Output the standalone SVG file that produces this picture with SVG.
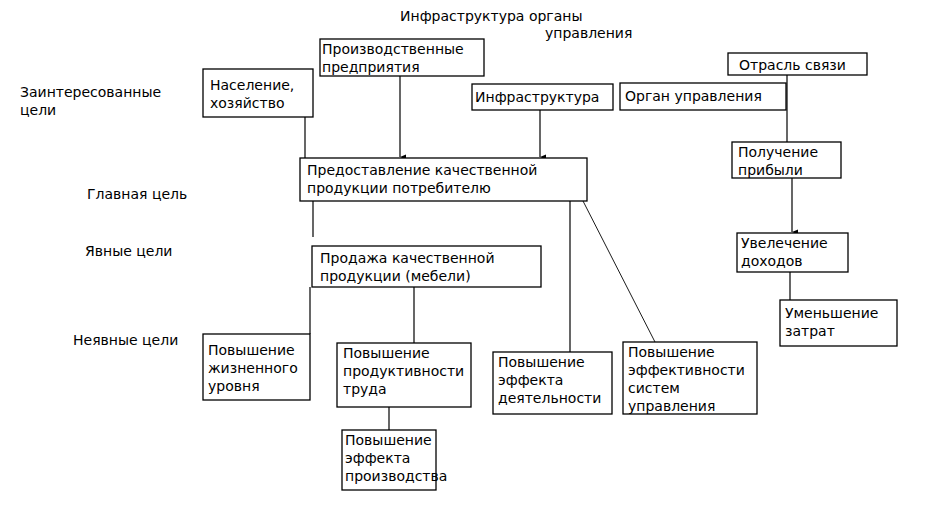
<svg xmlns="http://www.w3.org/2000/svg" width="933" height="508" viewBox="0 0 933 508">
<style>
text{font-family:"DejaVu Sans",sans-serif;font-size:14px;fill:#000}
rect{fill:#fff;stroke:#000;stroke-width:1.3}
line{stroke:#000;stroke-width:1.2}
</style>
<defs><marker id="a" markerWidth="6" markerHeight="6" refX="3" refY="5" orient="auto-start-reverse" viewBox="0 0 6 6"><path d="M1,0 L3,5 L5,0" fill="#000"/></marker></defs>
<rect x="0" y="0" width="933" height="508" style="stroke:none"/>
<g id="labels">
<text x="400" y="21">Инфраструктура  органы</text>
<text x="545" y="38">управления</text>
<text x="20" y="97">Заинтересованные</text>
<text x="20" y="115">цели</text>
<text x="87" y="199">Главная цель</text>
<text x="85" y="256">Явные цели</text>
<text x="73" y="345">Неявные цели</text>
</g>
<g id="connectors">
<line x1="305" y1="117" x2="305" y2="158"/>
<line x1="400" y1="76" x2="400" y2="157" marker-end="url(#a)"/>
<line x1="540" y1="110" x2="540" y2="157" marker-end="url(#a)"/>
<line x1="313" y1="201" x2="313" y2="237"/>
<line x1="310" y1="287" x2="310" y2="334"/>
<line x1="414" y1="287" x2="414" y2="343"/>
<line x1="389" y1="407" x2="389" y2="430"/>
<line x1="570" y1="201" x2="570" y2="352"/>
<line x1="583" y1="201" x2="655" y2="342" style="stroke-width:0.9"/>
<line x1="787" y1="75" x2="787" y2="142"/>
<line x1="792" y1="178" x2="792" y2="232" marker-end="url(#a)"/>
<line x1="790" y1="272" x2="790" y2="300"/>
</g>
<g id="n1"><rect x="203" y="69" width="110" height="48"/><text x="210" y="90">Население,</text><text x="210" y="108">хозяйство</text></g>
<g id="n2"><rect x="320" y="39" width="164" height="37"/><text x="322" y="54">Производственные</text><text x="322" y="72">предприятия</text></g>
<g id="n3"><rect x="472" y="84" width="141" height="26"/><text x="475" y="102">Инфраструктура</text></g>
<g id="n4"><rect x="620" y="83" width="166" height="27"/><text x="625" y="101">Орган управления</text></g>
<g id="n5"><rect x="728" y="53" width="139" height="22"/><text x="739" y="70">Отрасль связи</text></g>
<g id="n6"><rect x="300" y="158" width="287" height="43"/><text x="307" y="175">Предоставление качественной</text><text x="307" y="193">продукции потребителю</text></g>
<g id="n7"><rect x="312" y="246" width="229" height="41"/><text x="320" y="263">Продажа качественной</text><text x="320" y="281">продукции (мебели)</text></g>
<g id="n8"><rect x="732" y="142" width="109" height="36"/><text x="738" y="157">Получение</text><text x="738" y="175">прибыли</text></g>
<g id="n9"><rect x="737" y="233" width="111" height="39"/><text x="741" y="248">Увелечение</text><text x="741" y="266">доходов</text></g>
<g id="n10"><rect x="780" y="300" width="117" height="46"/><text x="785" y="318">Уменьшение</text><text x="785" y="336">затрат</text></g>
<g id="n11"><rect x="203" y="334" width="107" height="66"/><text x="208" y="355">Повышение</text><text x="208" y="373">жизненного</text><text x="208" y="391">уровня</text></g>
<g id="n12"><rect x="337" y="343" width="134" height="64"/><text x="343" y="358">Повышение</text><text x="343" y="376">продуктивности</text><text x="343" y="394">труда</text></g>
<g id="n13"><rect x="342" y="430" width="94" height="60"/><text x="345" y="445">Повышение</text><text x="345" y="463">эффекта</text><text x="345" y="481">производства</text></g>
<g id="n14"><rect x="493" y="352" width="119" height="62"/><text x="498" y="367">Повышение</text><text x="498" y="385">эффекта</text><text x="498" y="403">деятельности</text></g>
<g id="n15"><rect x="623" y="342" width="134" height="72"/><text x="628" y="357">Повышение</text><text x="628" y="375">эффективности</text><text x="628" y="393">систем</text><text x="628" y="411">управления</text></g>
</svg>
